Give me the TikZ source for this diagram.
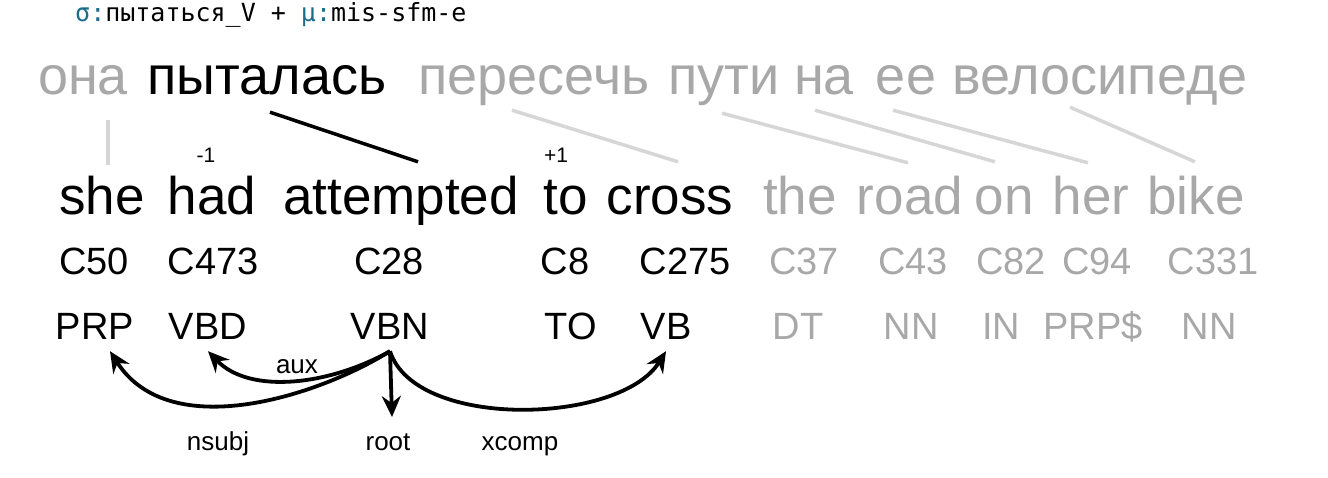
\documentclass[tikz,border=0pt]{standalone}
\usepackage{fontspec}
\setmainfont{Liberation Sans}
\newfontfamily\glossfont{DejaVu Sans Mono}
\usetikzlibrary{arrows.meta}
\definecolor{glossblue}{RGB}{28,108,138}
\definecolor{faded}{RGB}{168,168,168}
\definecolor{fadedline}{RGB}{214,214,214}
\tikzstyle{ru} = [anchor=base, inner sep=0pt, text depth=12pt, font=\fontsize{54}{60}\selectfont]
\tikzstyle{en} = [anchor=base, inner sep=0pt, text height=40pt, font=\fontsize{53}{60}\selectfont]
\tikzstyle{cluster} = [anchor=base, inner sep=0pt, font=\fontsize{38}{42}\selectfont]
\tikzstyle{tag} = [anchor=base, inner xsep=0pt, inner ysep=11pt, text depth=0pt, font=\fontsize{38}{42}\selectfont]
\tikzstyle{faint} = [text=faded]
\tikzstyle{offset} = [anchor=base, inner sep=0pt, font=\fontsize{21}{23}\selectfont]
\tikzstyle{deplabel} = [anchor=base, inner sep=0pt, font=\fontsize{26}{28}\selectfont]
\tikzstyle{link} = [line width=3.5pt, black]
\tikzstyle{fadedlink} = [line width=3.5pt, fadedline]
\tikzstyle{dep} = [line width=3.8pt, -{Stealth[length=21pt, width=19pt, inset=7pt]}]

\begin{document}
\begin{tikzpicture}[x=1pt,y=-1pt]
    \useasboundingbox (0,0) rectangle (1328,478);

    \node [anchor=base west, inner sep=0pt, font=\glossfont\fontsize{25}{27}\selectfont, name=gloss] at (75,22)
    {\textcolor{glossblue}{σ:}пытаться\_V + \textcolor{glossblue}{μ:}mis-sfm-e};

    % source sentence
    \node [ru, faint, name=ru1] at (83,95) {она};
    \node [ru, name=ru2] at (267,95) {пыталась};
    \node [ru, faint, name=ru3] at (534,95) {пересечь};
    \node [ru, faint, name=ru4] at (724,95) {пути};
    \node [ru, faint, name=ru5] at (824,95) {на};
    \node [ru, faint, name=ru6] at (906,95) {ее};
    \node [ru, faint, name=ru7] at (1100,95) {велосипеде};

    % target sentence
    \node [en, name=en1] at (102,215) {she};
    \node [en, name=en2] at (212,215) {had};
    \node [en, name=en3] at (401,215) {attempted};
    \node [en, name=en4] at (566,215) {to};
    \node [en, name=en5] at (670,215) {cross};
    \node [en, faint, name=en6] at (800,215) {the};
    \node [en, faint, name=en7] at (910,215) {road};
    \node [en, faint, name=en8] at (1004,215) {on};
    \node [en, faint, name=en9] at (1091,215) {her};
    \node [en, faint, name=en10] at (1196,215) {bike};

    \node [offset, name=minus] at (206,163) {-1};
    \node [offset, name=plus] at (556,163) {+1};

    % clusters
    \node [cluster, name=c1] at (94,275) {C50};
    \node [cluster, name=c2] at (213,275) {C473};
    \node [cluster, name=c3] at (389,275) {C28};
    \node [cluster, name=c4] at (565,275) {C8};
    \node [cluster, name=c5] at (685,275) {C275};
    \node [cluster, faint, name=c6] at (804,275) {C37};
    \node [cluster, faint, name=c7] at (913,275) {C43};
    \node [cluster, faint, name=c8] at (1011,275) {C82};
    \node [cluster, faint, name=c9] at (1097,275) {C94};
    \node [cluster, faint, name=c10] at (1213,275) {C331};

    % part of speech
    \node [tag, name=prp] at (95,340) {PRP};
    \node [tag, name=vbd] at (208,340) {VBD};
    \node [tag, name=vbn] at (390,340) {VBN};
    \node [tag, name=to] at (571,340) {TO};
    \node [tag, name=vb] at (666,340) {VB};
    \node [tag, faint, name=dt] at (798,340) {DT};
    \node [tag, faint, name=nn1] at (911,340) {NN};
    \node [tag, faint, name=in] at (1001,340) {IN};
    \node [tag, faint, name=prps] at (1093,340) {PRP\$};
    \node [tag, faint, name=nn2] at (1209,340) {NN};

    \node [deplabel, name=aux] at (297,373) {aux};
    \node [deplabel, name=nsubj] at (218,450) {nsubj};
    \node [deplabel, name=root] at (388,450) {root};
    \node [deplabel, name=xcomp] at (520,450) {xcomp};
    \coordinate (rootend) at (392,417);

    % word alignment
    \draw [fadedlink] ([xshift=25pt,yshift=-13pt]ru1.south) -- ([xshift=6pt,yshift=10pt]en1.north);
    \draw [link] ([xshift=3pt,yshift=-5pt]ru2.south) -- ([xshift=17pt,yshift=13pt]en3.north);
    \draw [fadedlink] ([xshift=-22pt,yshift=-3pt]ru3.south) -- ([xshift=8pt,yshift=13pt]en5.north);
    \draw [fadedlink] ([xshift=-2pt,yshift=-6pt]ru4.south) -- ([xshift=-2pt,yshift=12pt]en7.north);
    \draw [fadedlink] ([xshift=-9pt,yshift=-3pt]ru5.south) -- ([xshift=-9pt,yshift=13pt]en8.north);
    \draw [fadedlink] ([xshift=-13pt,yshift=-3pt]ru6.south) -- ([xshift=-3pt,yshift=12pt]en9.north);
    \draw [fadedlink] ([xshift=-30pt]ru7.south) -- ([xshift=-1pt,yshift=13pt]en10.north);

    % dependencies
    \draw [dep] (vbn.south) .. controls (320,395) and (170,445) .. ([xshift=15pt]prp.south);
    \draw [dep] (vbn.south) .. controls (330,385) and (250,395) .. (vbd.south);
    \draw [dep] (vbn.south) -- (rootend);
    \draw [dep] (vbn.south) .. controls (415,430) and (620,425) .. (vb.south);

\end{tikzpicture}
\end{document}
